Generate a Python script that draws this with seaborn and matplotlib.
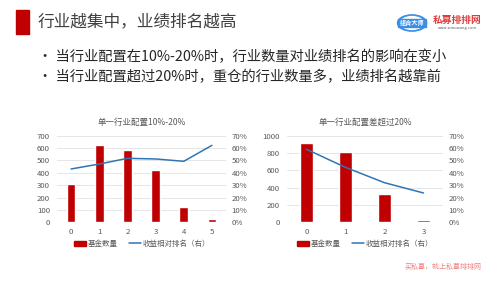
import matplotlib
matplotlib.use("Agg")
import matplotlib.pyplot as plt
import seaborn as sns
from matplotlib.patches import Rectangle, Circle, Patch
from matplotlib.lines import Line2D
from matplotlib.ticker import PercentFormatter, MultipleLocator

# data
cats_a = ["0", "1", "2", "3", "4", "5"]
funds_a = [312, 622, 584, 423, 121, 24]
rank_a = [43.1, 47.1, 51.7, 51.2, 49.3, 62.2]

cats_b = ["0", "1", "2", "3"]
funds_b = [919, 815, 327, 23]
rank_b = [59.0, 44.4, 32.0, 23.7]

title = "行业越集中，业绩排名越高"
bullets = ["当行业配置在10%-20%时，行业数量对业绩排名的影响在变小",
           "当行业配置超过20%时，重仓的行业数量多，业绩排名越靠前"]
chart_titles = ["单一行业配置10%-20%", "单一行业配置差超过20%"]
legend_labels = ["基金数量", "收益相对排名（右）"]

RED = "#C00000"
BLUE = "#2E75B6"
GREY = "#595959"

sns.set_theme(style="white")
plt.rcParams["font.family"] = ["Noto Sans CJK SC", "DejaVu Sans"]

fig = plt.figure(figsize=(5, 2.81), dpi=100)
W, H = 500, 281

# header
fig.patches.append(Rectangle((15.7 / W, 1 - 34 / H), 13.6 / W, 24 / H,
                             transform=fig.transFigure, color=RED))
fig.text(38 / W, 1 - 21.7 / H, title, fontsize=12, color="#404040", va="center")
for i, b in enumerate(bullets):
    fig.text(38 / W, 1 - (57 + 20 * i) / H, "• " + b, fontsize=10.3,
             color="#262626", va="center")

# logo
fig.patches.append(Circle((412 / W, 1 - 23 / H), 14.5 / W, transform=fig.transFigure,
                          color="#3A8EE6"))
fig.patches.append(Circle((412 / W, 1 - 23 / H), 11.5 / W, transform=fig.transFigure,
                          color="white"))
fig.patches.append(Rectangle((398 / W, 1 - 27 / H), 28 / W, 8 / H,
                             transform=fig.transFigure, color="#3A8EE6"))
fig.text(412 / W, 1 - 23 / H, "组合大师", fontsize=4.4, color="white",
         ha="center", va="center", fontweight="bold")
fig.text(457 / W, 1 - 20 / H, "私募排排网", fontsize=7, color="#E03C3C",
         ha="center", va="center", fontweight="bold")
fig.text(457 / W, 1 - 27.5 / H, "www.simuwang.com", fontsize=2.8, color="#555555",
         ha="center", va="center")

# footer
fig.text(482 / W, 1 - 267 / H, "买私募，就上私募排排网", fontsize=5.0,
         color="#F48080", ha="right", va="center")


def draw(rect, cats, funds, rank, ymax, ystep, ttl, cx):
    ax = fig.add_axes(rect)
    sns.barplot(x=cats, y=funds, color=RED, width=0.31, saturation=1, ax=ax)
    ax.set_xlim(-0.5, len(cats) - 0.5)
    ax.set_ylim(0, ymax)
    ax.yaxis.set_major_locator(MultipleLocator(ystep))
    ax.grid(axis="y", color="#E0E0E0", linewidth=0.6)
    ax.set_axisbelow(True)
    for s in ax.spines.values():
        s.set_visible(False)
    ax.tick_params(axis="both", length=0, labelsize=5.6, labelcolor=GREY)
    ax.tick_params(axis="y", pad=5)
    ax.tick_params(axis="x", pad=4)
    ax.set_xlabel("")
    ax.set_ylabel("")

    ax2 = ax.twinx()
    sns.lineplot(x=list(range(len(cats))), y=rank, color=BLUE, linewidth=1.1, ax=ax2)
    ax2.set_ylim(0, 70)
    ax2.yaxis.set_major_locator(MultipleLocator(10))
    ax2.yaxis.set_major_formatter(PercentFormatter(decimals=0))
    for s in ax2.spines.values():
        s.set_visible(False)
    ax2.tick_params(axis="y", length=0, labelsize=5.6, labelcolor=GREY, pad=4)
    ax2.set_ylabel("")
    ax2.grid(False)

    fig.text(cx / W, 1 - 122 / H, ttl, fontsize=6.1, color=GREY, ha="center", va="center")
    handles = [Patch(color=RED), Line2D([0], [0], color=BLUE, linewidth=1.1)]
    fig.legend(handles, legend_labels, loc="center", bbox_to_anchor=(cx / W, 1 - 244 / H),
               ncol=2, frameon=False, fontsize=5.4, labelcolor=GREY,
               handlelength=1.6, handleheight=0.6, handletextpad=0.2, columnspacing=1.6)


draw([57 / W, 58.7 / H, 169 / W, 86.6 / H], cats_a, funds_a, rank_a, 700, 100,
     chart_titles[0], 142)
draw([287 / W, 58.7 / H, 156 / W, 86.6 / H], cats_b, funds_b, rank_b, 1000, 200,
     chart_titles[1], 365)

fig.savefig("out.png", dpi=100)
